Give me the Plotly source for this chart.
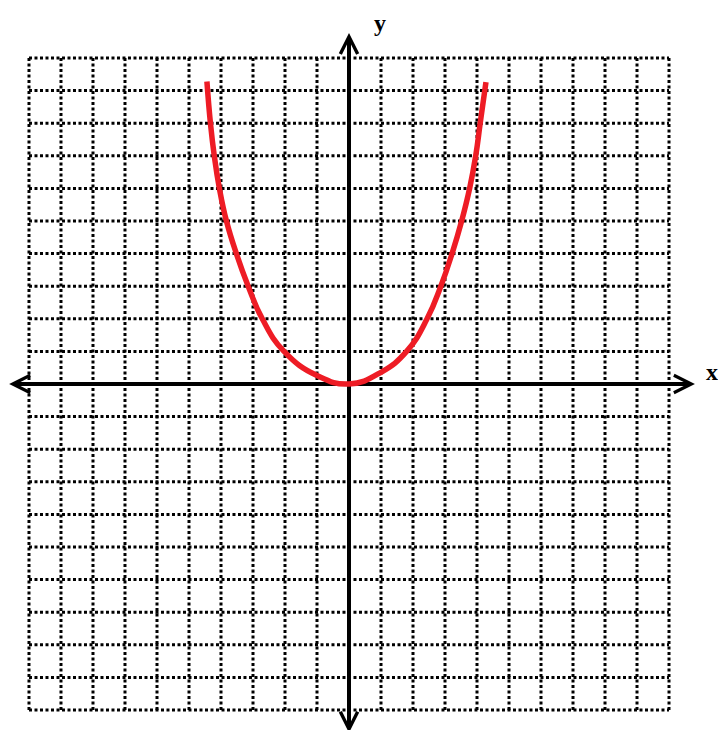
import plotly.graph_objects as go

# grid runs from -10 to 10 on both axes, one unit per cell
grid_ticks = list(range(-10, 11))

# red curve
curve_x = [-4.44, -4.33, -4.21, -4.05, -3.83, -3.52, -3.15, -2.71, -2.03, -1.0, 0.0,
           1.0, 1.8, 2.44, 2.87, 3.22, 3.52, 3.77, 3.96, 4.1, 4.28]
curve_y = [9.28, 8.0, 7.0, 6.0, 5.0, 4.0, 3.0, 2.0, 1.0, 0.26, 0.0,
           0.36, 1.0, 2.0, 3.0, 4.0, 5.0, 6.0, 7.0, 8.0, 9.26]

# where the axis arrows end
x_arrow_ends = [-10.62, 10.81]
y_arrow_ends = [-10.7, 10.77]

fig = go.Figure()

# dotted grid
gx, gy = [], []
for t in grid_ticks:
    gx += [t, t, None]
    gy += [grid_ticks[0], grid_ticks[-1], None]
    gx += [grid_ticks[0], grid_ticks[-1], None]
    gy += [t, t, None]
fig.add_trace(go.Scatter(x=gx, y=gy, mode='lines', hoverinfo='skip',
                         line=dict(color='black', width=3, dash='3px,2.5px')))

# solid axes (arrow heads added as annotations below)
fig.add_trace(go.Scatter(x=[x_arrow_ends[0] + 0.3, x_arrow_ends[1] - 0.3], y=[0, 0], mode='lines',
                         hoverinfo='skip', line=dict(color='black', width=4)))
fig.add_trace(go.Scatter(x=[0, 0], y=[y_arrow_ends[0] + 0.3, y_arrow_ends[1] - 0.3], mode='lines',
                         hoverinfo='skip', line=dict(color='black', width=4)))

# the curve
fig.add_trace(go.Scatter(x=curve_x, y=curve_y, mode='lines', hoverinfo='skip',
                         line=dict(color='#ee1c25', width=5.5, shape='spline', smoothing=1.3)))

arrow = dict(text='', showarrow=True, arrowhead=5, arrowsize=0.85, arrowwidth=4,
             arrowcolor='black', axref='x', ayref='y', xref='x', yref='y', standoff=0)
for xe in x_arrow_ends:
    fig.add_annotation(x=xe, y=0, ax=xe * 0.85, ay=0, **arrow)
for ye in y_arrow_ends:
    fig.add_annotation(x=0, y=ye, ax=0, ay=ye * 0.85, **arrow)

label_font = dict(family='Liberation Serif', size=24, color='black')
fig.add_annotation(x=11.34, y=0.37, text='<b>x</b>', showarrow=False, font=label_font)
fig.add_annotation(x=0.97, y=11.08, text='<b>y</b>', showarrow=False, font=label_font)

# page has an 8px body margin, so the plot starts at (8, 8) in the window
fig.update_layout(width=710, height=722, margin=dict(l=0, r=0, t=0, b=0),
                  plot_bgcolor='white', paper_bgcolor='white', showlegend=False,
                  xaxis=dict(range=[-10.656, 11.531], visible=False, fixedrange=True),
                  yaxis=dict(range=[-10.613, 11.534], visible=False, fixedrange=True))

fig.write_html("out.html")
